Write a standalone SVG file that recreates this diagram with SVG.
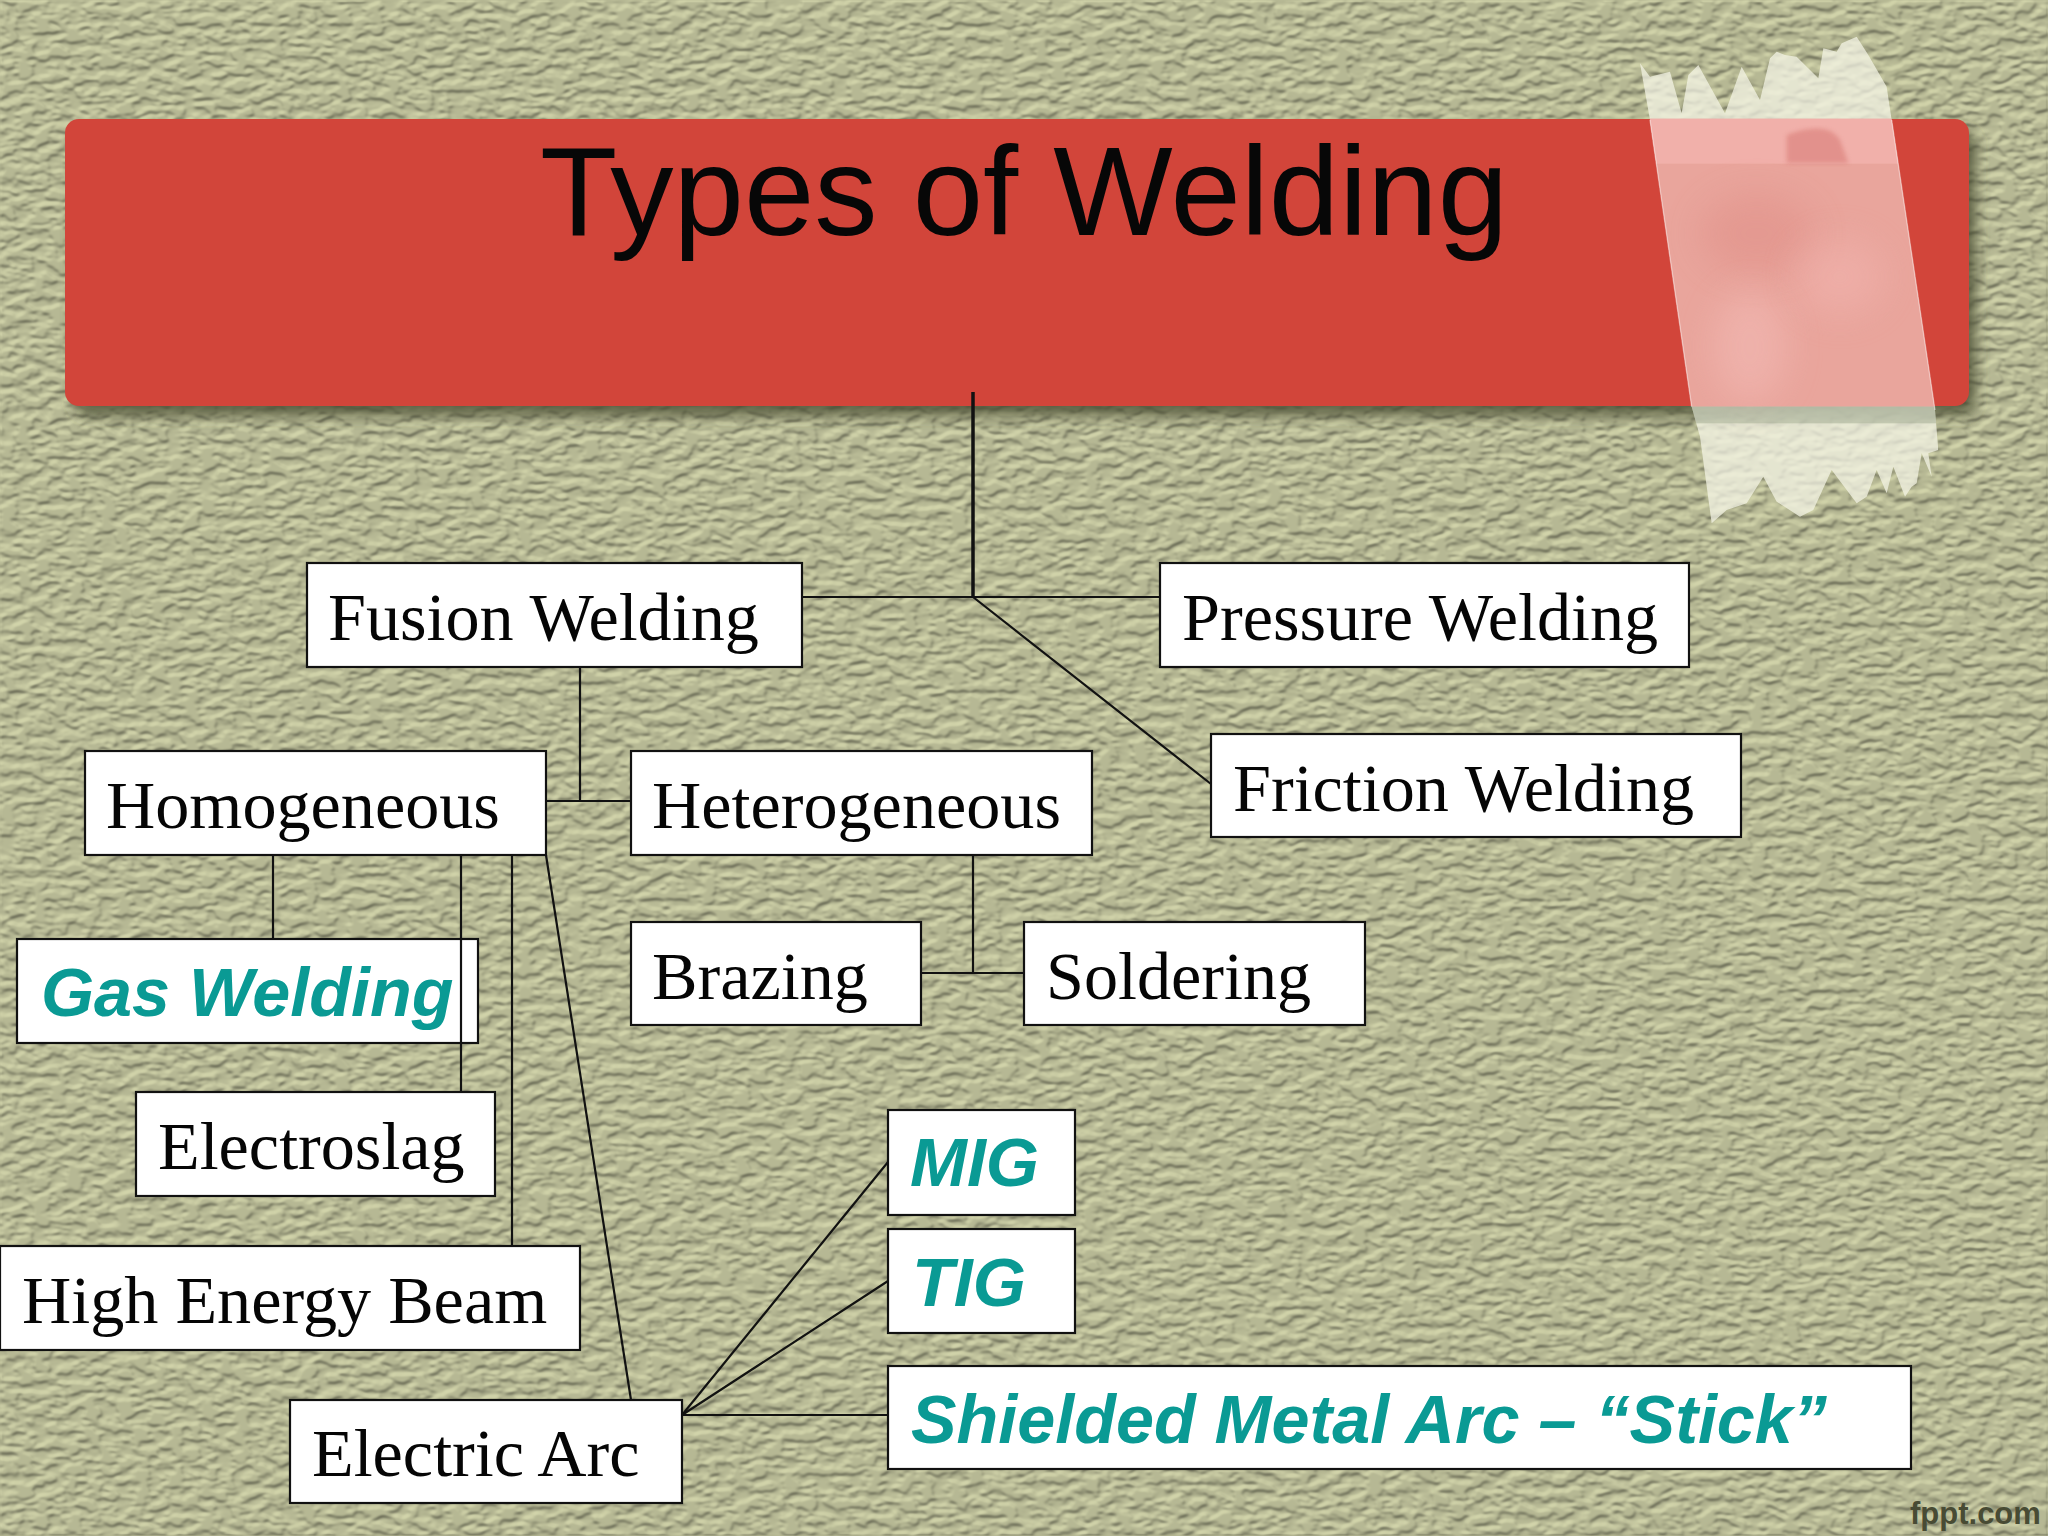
<svg xmlns="http://www.w3.org/2000/svg" width="2048" height="1536" viewBox="0 0 2048 1536">
<style>
.box{fill:#fff;stroke:#111;stroke-width:2.2}
.s{font-family:"Liberation Serif","Times New Roman",serif;font-size:68.2px;fill:#050505}
.t{font-family:"Liberation Sans",Arial,sans-serif;font-weight:bold;font-style:italic;font-size:68.3px;fill:#0a9a94}
.c line{stroke:#111;stroke-width:2.2}
</style>
<defs>
<filter id="tex" x="0" y="0" width="100%" height="100%" color-interpolation-filters="sRGB">
<feTurbulence type="fractalNoise" baseFrequency="0.06 0.12" numOctaves="2" seed="7"/>
<feComponentTransfer><feFuncA type="table" tableValues="0 0 0 .2 1 1 1 1"/></feComponentTransfer>
<feGaussianBlur stdDeviation="1.3"/>
<feDiffuseLighting surfaceScale="0.85" diffuseConstant="1.1" lighting-color="#bfc19b"><feDistantLight azimuth="250" elevation="60"/></feDiffuseLighting>
</filter>
<filter id="soft" x="-10%" y="-10%" width="120%" height="120%"><feGaussianBlur stdDeviation="7"/></filter>
<filter id="soft2" x="-60%" y="-60%" width="220%" height="220%"><feGaussianBlur stdDeviation="55"/></filter>
<clipPath id="tapeClip"><path d="M120,130L150,170 210,155 245,280 265,165 295,135 375,280 425,140 480,240 510,115 530,95 555,105 590,110 655,175 670,85 710,95 725,70 770,50 805,105 860,200 875,300 1005,1170 1015,1290 985,1300 995,1370 965,1300 950,1390 935,1400 915,1430 880,1340 860,1420 830,1350 800,1430 770,1450 695,1350 640,1470 600,1490 530,1445 490,1370 440,1450 380,1470 335,1510 300,1250 275,1160 150,300Z"/></clipPath>
</defs>
<rect id="background" width="2048" height="1536" filter="url(#tex)"/>
<g id="banner">
<rect x="74" y="130" width="1902" height="286" rx="14" fill="#4c5036" opacity=".85" filter="url(#soft)"/>
<rect x="65" y="119" width="1904" height="287" rx="14" fill="#d2453a"/>
<text x="540" y="235" font-family="'Liberation Sans',Arial,sans-serif" font-size="126.5" fill="#070707">Types of Welding</text>
</g>
<g id="tape" transform="translate(1600 20) scale(.33333)">
<g clip-path="url(#tapeClip)">
<rect x="100" y="30" width="940" height="1500" fill="#f4f4e6" opacity=".74"/>
<rect x="100" y="296" width="940" height="864" fill="#e88f8b" opacity=".62"/>
<rect x="100" y="296" width="940" height="135" fill="#f8b9b7" opacity=".55"/>
<path d="M560,345Q680,300 720,360L745,430H560Z" fill="#d97e78" opacity=".6" filter="url(#soft)"/>
<ellipse cx="470" cy="640" rx="170" ry="120" fill="#d97f78" opacity=".3" filter="url(#soft2)"/>
<ellipse cx="450" cy="980" rx="110" ry="170" fill="#f6c1bd" opacity=".45" filter="url(#soft2)"/>
<ellipse cx="720" cy="770" rx="130" ry="110" fill="#f4b8b4" opacity=".45" filter="url(#soft2)"/>
<rect x="100" y="1160" width="940" height="50" fill="#8f9a80" opacity=".4"/>
</g>
<path d="M150,300L275,1160" fill="none" stroke="#fff" stroke-width="4" opacity=".45"/>
<path d="M875,300L1005,1170" fill="none" stroke="#fff" stroke-width="4" opacity=".45"/>
</g>
<g id="fusion"><rect class="box" x="307" y="563" width="495" height="104"/><text class="s" x="328" y="640">Fusion Welding</text></g>
<g id="pressure"><rect class="box" x="1160" y="563" width="529" height="104"/><text class="s" x="1182" y="640">Pressure Welding</text></g>
<g id="friction"><rect class="box" x="1211" y="734" width="530" height="103"/><text class="s" x="1233" y="811">Friction Welding</text></g>
<g id="homogeneous"><rect class="box" x="85" y="751" width="461" height="104"/><text class="s" x="106" y="828">Homogeneous</text></g>
<g id="heterogeneous"><rect class="box" x="631" y="751" width="461" height="104"/><text class="s" x="652" y="828">Heterogeneous</text></g>
<g id="brazing"><rect class="box" x="631" y="922" width="290" height="103"/><text class="s" x="652" y="999">Brazing</text></g>
<g id="soldering"><rect class="box" x="1024" y="922" width="341" height="103"/><text class="s" x="1046" y="999">Soldering</text></g>
<g id="gas"><rect class="box" x="17" y="939" width="461" height="104"/><text class="t" x="41" y="1016">Gas Welding</text></g>
<g id="electroslag"><rect class="box" x="136" y="1092" width="359" height="104"/><text class="s" x="158" y="1169">Electroslag</text></g>
<g id="highenergy"><rect class="box" x="0" y="1246" width="580" height="104"/><text class="s" x="22" y="1323">High Energy Beam</text></g>
<g id="electricarc"><rect class="box" x="290" y="1400" width="392" height="103"/><text class="s" x="312" y="1476">Electric Arc</text></g>
<g id="mig"><rect class="box" x="888" y="1110" width="187" height="105"/><text class="t" x="910" y="1186">MIG</text></g>
<g id="tig"><rect class="box" x="888" y="1229" width="187" height="104"/><text class="t" x="912" y="1306">TIG</text></g>
<g id="smaw"><rect class="box" x="888" y="1366" width="1023" height="103"/><text class="t" x="911" y="1443">Shielded Metal Arc – “Stick”</text></g>
<text id="brand" x="1910" y="1524" font-family="'Liberation Sans',Arial,sans-serif" font-weight="bold" font-size="31" fill="#484b34">fppt.com</text>
<g id="connectors" class="c">
<line x1="973" y1="392" x2="973" y2="597" style="stroke-width:3.5"/>
<line x1="802" y1="597" x2="1160" y2="597"/>
<line x1="973" y1="597" x2="1211" y2="784"/>
<line x1="580" y1="667" x2="580" y2="801"/>
<line x1="546" y1="801" x2="631" y2="801"/>
<line x1="973" y1="855" x2="973" y2="973"/>
<line x1="921" y1="973" x2="1024" y2="973"/>
<line x1="273" y1="855" x2="273" y2="939"/>
<line x1="461" y1="855" x2="461" y2="1092"/>
<line x1="512" y1="855" x2="512" y2="1246"/>
<line x1="546" y1="855" x2="631" y2="1400"/>
<line x1="682" y1="1415" x2="888" y2="1162"/>
<line x1="682" y1="1415" x2="888" y2="1281"/>
<line x1="682" y1="1415" x2="888" y2="1415"/>
</g>
</svg>
